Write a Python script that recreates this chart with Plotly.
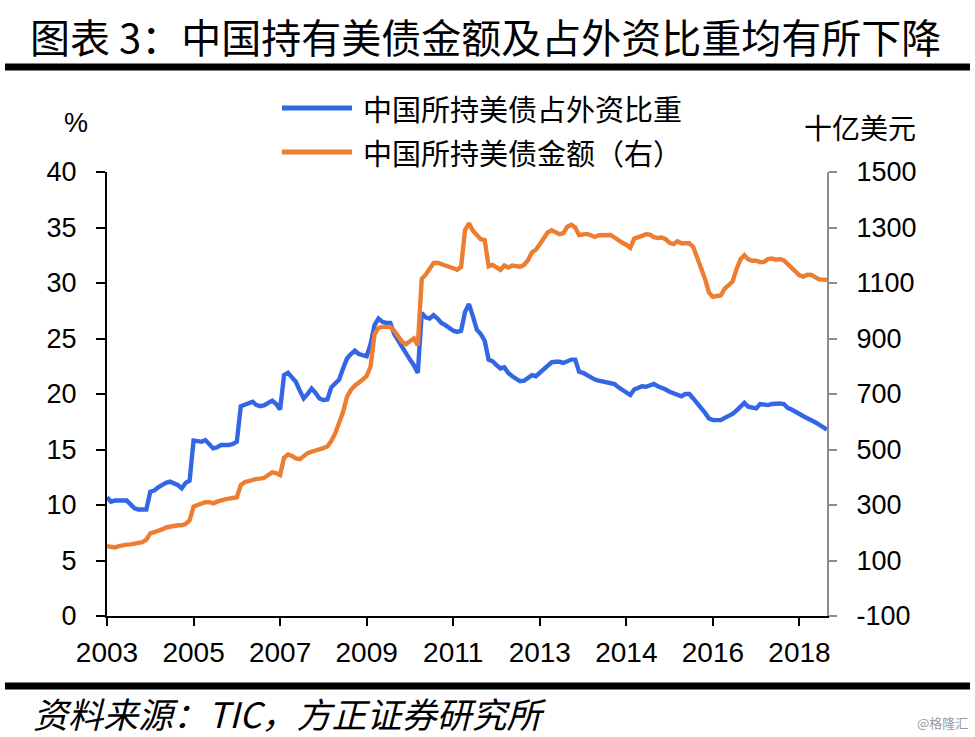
import plotly.graph_objects as go

# ---------------- data (monthly) ----------------
share_pct = [
    10.7, 10.3, 10.4, 10.45, 10.4, 10.4, 10.0, 9.7, 9.6, 9.6,
    9.6, 11.2, 11.3, 11.6, 11.85, 12.0, 12.1, 12.0, 11.8, 11.5,
    12.0, 12.2, 15.8, 15.75, 15.7, 15.85, 15.5, 15.1, 15.2, 15.4,
    15.4, 15.4, 15.5, 15.7, 18.9, 19.0, 19.15, 19.3, 19.0, 18.9,
    19.0, 19.2, 19.4, 19.1, 18.6, 21.7, 21.9, 21.5, 21.1, 20.3,
    19.6, 20.0, 20.5, 20.1, 19.6, 19.45, 19.5, 20.6, 21.0, 21.3,
    22.3, 23.2, 23.6, 23.9, 23.6, 23.5, 23.4, 24.5, 26.2, 26.8,
    26.5, 26.4, 26.4, 25.4, 24.8, 24.3, 23.6, 23.1, 22.6, 21.9,
    27.3, 26.9, 26.8, 27.1, 26.8, 26.4, 26.2, 25.9, 25.7, 25.6,
    25.7, 27.4, 28.1, 27.0, 25.8, 25.4, 24.8, 23.1, 22.95, 22.6,
    22.3, 22.4, 21.9, 21.6, 21.4, 21.15, 21.2, 21.4, 21.7, 21.6,
    21.9, 22.3, 22.6, 22.85, 22.9, 22.9, 22.8, 22.95, 23.1, 23.1,
    22.0, 21.9, 21.7, 21.45, 21.3, 21.2, 21.1, 21.0, 21.0, 20.9,
    20.6, 20.35, 20.05, 19.9, 20.4, 20.6, 20.7, 20.65, 20.8, 20.9,
    20.7, 20.6, 20.4, 20.2, 20.1, 19.9, 19.8, 20.0, 20.0, 19.6,
    19.2, 18.8, 18.3, 17.8, 17.65, 17.65, 17.65, 17.85, 18.0, 18.2,
    18.5, 18.9, 19.2, 18.85, 18.8, 18.7, 19.1, 19.0, 19.0, 19.1,
    19.15, 19.15, 19.1, 18.75, 18.6, 18.45, 18.2, 18.0, 17.85, 17.7,
    17.45, 17.25, 17.0, 16.8,
]

holdings_bn = [
    152, 150, 147, 152, 156, 157, 158, 160, 162, 166,
    175, 198, 202, 206, 212, 219, 223, 227, 227, 227,
    232, 245, 294, 300, 305, 310, 310, 306, 312, 318,
    320, 323, 326, 328, 372, 382, 386, 392, 394, 395,
    398, 408, 418, 415, 408, 470, 482, 477, 468, 465,
    478, 487, 492, 495, 500, 505, 511, 530, 558, 595,
    635, 690, 715, 730, 740, 752, 765, 800, 915, 938,
    942, 942, 942, 928, 905, 888, 880, 892, 900, 875,
    1115, 1130, 1150, 1172, 1173, 1167, 1162, 1157, 1153, 1148,
    1158, 1290, 1315, 1288, 1270, 1258, 1255, 1160, 1165, 1155,
    1147, 1163, 1156, 1163, 1162, 1159, 1165, 1182, 1210, 1220,
    1240, 1262, 1282, 1290, 1281, 1276, 1280, 1303, 1310, 1300,
    1273, 1277, 1277, 1272, 1266, 1272, 1273, 1273, 1273, 1264,
    1252, 1245, 1238, 1227, 1260, 1267, 1270, 1276, 1274, 1265,
    1262, 1264, 1258, 1245, 1240, 1250, 1243, 1243, 1243, 1230,
    1195, 1160, 1115, 1065, 1050, 1053, 1055, 1080, 1092, 1105,
    1150, 1185, 1200, 1185, 1180, 1180, 1175, 1176, 1186, 1188,
    1184, 1186, 1182, 1168, 1155, 1143, 1128, 1123, 1130, 1129,
    1120, 1113, 1112, 1111,
]

period_index = list(range(len(share_pct)))
tick_positions = [0, 22, 44, 66, 88, 110, 132, 154, 176]
tick_labels = ["2003", "2005", "2007", "2009", "2011", "2013", "2014", "2016", "2018"]
right_tick_values = [-100, 100, 300, 500, 700, 900, 1100, 1300, 1500]
right_tick_labels = ["-100", "100", "300", "500", "700", "900", "1100", "1300", "1500"]

name_share = "中国所持美债占外资比重"
name_amount = "中国所持美债金额（右）"

# ---------------- styling ----------------
BLUE = "#3366E6"
ORANGE = "#ED7D31"
NUM_FONT = "Liberation Sans, Arial, sans-serif"
CJK_FONT = "Noto Sans CJK SC, sans-serif"

W, H = 975, 737
L, R, T, B = 107, 827, 172, 616  # plot area in pixels


def px(x):
    return (x - L) / (R - L)


def py(y):
    return (B - y) / (B - T)


fig = go.Figure()
fig.add_trace(go.Scatter(x=period_index, y=share_pct, name=name_share, mode="lines",
                         line=dict(color=BLUE, width=4.4), yaxis="y", showlegend=False))
fig.add_trace(go.Scatter(x=period_index, y=holdings_bn, name=name_amount, mode="lines",
                         line=dict(color=ORANGE, width=4.4), yaxis="y2", showlegend=False))

fig.update_layout(
    width=W, height=H,
    margin=dict(l=L, r=W - R, t=T, b=H - B, pad=0),
    paper_bgcolor="white", plot_bgcolor="white",
    font=dict(family=NUM_FONT, size=27, color="black"),
    xaxis=dict(
        range=[0, len(share_pct) - 1], tickmode="array",
        tickvals=tick_positions, ticktext=tick_labels,
        showline=True, linecolor="black", linewidth=2,
        ticks="outside", ticklen=8, tickwidth=2, tickcolor="black",
        showgrid=False, zeroline=False, ticklabelstandoff=2,
        tickfont=dict(family=NUM_FONT, size=28),
    ),
    yaxis=dict(
        range=[0, 40], dtick=5, tick0=0,
        showline=True, linecolor="black", linewidth=2,
        ticks="outside", ticklen=9, tickwidth=2, tickcolor="black",
        showgrid=False, zeroline=False, ticklabelstandoff=14,
        tickfont=dict(family=NUM_FONT, size=27),
    ),
    yaxis2=dict(
        range=[-100, 1500], tickmode="array",
        tickvals=right_tick_values, ticktext=right_tick_labels,
        overlaying="y", side="right",
        showline=True, linecolor="#8c8c8c", linewidth=2,
        ticks="outside", ticklen=8, tickwidth=2, tickcolor="#8c8c8c",
        showgrid=False, zeroline=False, ticklabelstandoff=14,
        tickfont=dict(family=NUM_FONT, size=27),
    ),
)

shapes = [
    # legend keys
    dict(type="line", xref="paper", yref="paper", x0=px(282), x1=px(352), y0=py(108), y1=py(108),
         line=dict(color=BLUE, width=5)),
    dict(type="line", xref="paper", yref="paper", x0=px(282), x1=px(352), y0=py(152), y1=py(152),
         line=dict(color=ORANGE, width=5)),
    # thick rules under the title and above the source
    dict(type="line", xref="paper", yref="paper", x0=px(5), x1=px(970), y0=py(67), y1=py(67),
         line=dict(color="black", width=7)),
    dict(type="line", xref="paper", yref="paper", x0=px(5), x1=px(970), y0=py(686), y1=py(686),
         line=dict(color="black", width=7)),
]

annotations = [
    dict(text=name_share, x=px(361), y=py(108), xref="paper", yref="paper", xanchor="left",
         yanchor="middle", showarrow=False, font=dict(family=CJK_FONT, size=29)),
    dict(text=name_amount, x=px(361), y=py(152), xref="paper", yref="paper", xanchor="left",
         yanchor="middle", showarrow=False, font=dict(family=CJK_FONT, size=29)),
    dict(text="%", x=px(76), y=py(123), xref="paper", yref="paper", xanchor="center",
         yanchor="middle", showarrow=False, font=dict(family=NUM_FONT, size=27)),
    dict(text="十亿美元", x=px(918), y=py(127), xref="paper", yref="paper", xanchor="right",
         yanchor="middle", showarrow=False, font=dict(family=CJK_FONT, size=28)),
    dict(text="图表 3：中国持有美债金额及占外资比重均有所下降", x=px(485), y=py(36), xref="paper",
         yref="paper", xanchor="center", yanchor="middle", showarrow=False,
         font=dict(family=CJK_FONT, size=40)),
    dict(text="<i>资料来源：TIC，方正证券研究所</i>", x=px(31), y=py(712), xref="paper", yref="paper",
         xanchor="left", yanchor="middle", showarrow=False, font=dict(family=CJK_FONT, size=35)),
    dict(text="@格隆汇", x=px(970), y=py(722), xref="paper", yref="paper", xanchor="right",
         yanchor="middle", showarrow=False, font=dict(family=CJK_FONT, size=13, color="#9a9a9a")),
]

fig.update_layout(shapes=shapes, annotations=annotations)
fig.write_html(
    "out.html",
    config={"displayModeBar": False},
    post_script="document.body.style.margin='0';document.body.style.overflow='hidden';",
)
